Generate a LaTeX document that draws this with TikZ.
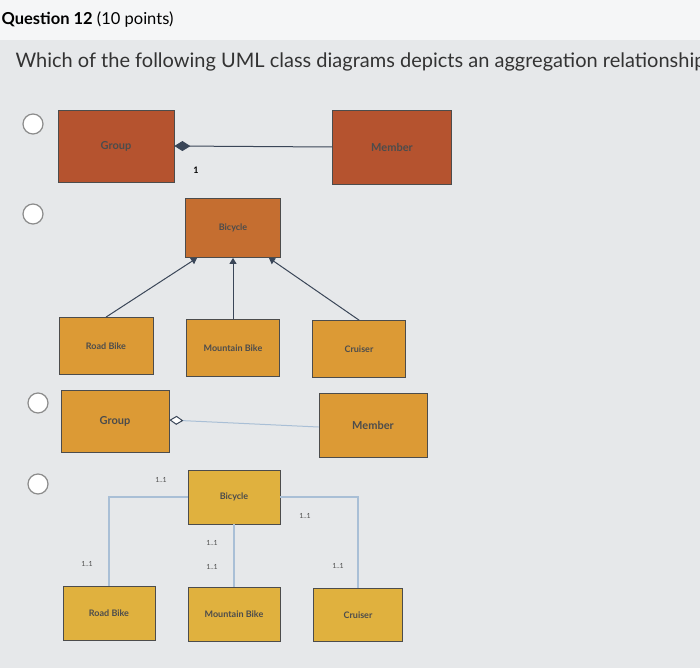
\documentclass[tikz,border=0pt]{standalone}
\usepackage{fontspec}
\setmainfont{Lato}
\usetikzlibrary{arrows.meta}
\definecolor{bg}{HTML}{E6E8EA}
\definecolor{red1}{HTML}{B5532F}
\definecolor{or2}{HTML}{C56E30}
\definecolor{or3}{HTML}{DC9A35}
\definecolor{ye4}{HTML}{E0B13E}
\definecolor{ln}{HTML}{3A4658}
\definecolor{lb}{HTML}{A9BFD6}
\tikzset{
 box/.style={draw=black!70,line width=0.8pt,inner sep=0pt,font=\fontsize{9}{10}\selectfont\bfseries\color{black!70}},
 bigbox/.style={box,font=\fontsize{11}{12}\selectfont\bfseries\color{black!70}},
 radio/.style={draw=black!45,fill=white,line width=1.2pt,circle,minimum size=20pt,inner sep=0pt},
 mult/.style={font=\fontsize{7}{8}\selectfont\color{black!70},inner sep=1pt},
 gen/.style={ln,line width=1pt,-{Triangle[width=7pt,length=6pt]}}
}
\begin{document}
\begin{tikzpicture}[x=1pt,y=-1pt]
\useasboundingbox (0,0) rectangle (700,668);
\fill[bg] (0,0) rectangle (700,668);
\fill[white!60!bg] (0,0) rectangle (700,40);
\node[anchor=west,font=\fontsize{16.5}{18}\selectfont] (t1) at (-2,20) {\textbf{Question 12} (10 points)};
\node[anchor=west,font=\fontsize{20}{22}\selectfont,color=black!80] (t2) at (12,62) {Which of the following UML class diagrams depicts an aggregation relationship?};
% radios
\node[radio] (r1) at (33,124) {};
\node[radio] (r2) at (33,214) {};
\node[radio] (r3) at (38,403) {};
\node[radio] (r4) at (38,484) {};
% diagram 1
\node[bigbox,fill=red1,minimum width=116pt,minimum height=72pt] (g1) at (116,146) {Group};
\node[bigbox,fill=red1,minimum width=119pt,minimum height=74pt] (m1) at (392,147) {Member};
\draw[ln,line width=1pt,{Diamond[length=16pt,width=10pt,fill=ln]}-] (g1.east) -- (m1.west);
\node[mult,font=\fontsize{9}{10}\selectfont\bfseries] (one) at (196,170) {1};
% diagram 2
\node[box,fill=or2,minimum width=95pt,minimum height=59pt] (b2) at (233,228) {Bicycle};
\node[box,fill=or3,minimum width=94pt,minimum height=57pt] (rb2) at (106,346) {Road Bike};
\node[box,fill=or3,minimum width=93pt,minimum height=57pt] (mb2) at (233,348) {Mountain Bike};
\node[box,fill=or3,minimum width=93pt,minimum height=57pt] (cr2) at (359,349) {Cruiser};
\draw[gen] (rb2.north) -- ([xshift=12pt]b2.south west);
\draw[gen] (mb2.north) -- (b2.south);
\draw[gen] (cr2.north) -- ([xshift=-12pt]b2.south east);
% diagram 3
\node[bigbox,fill=or3,minimum width=108pt,minimum height=62pt] (g3) at (115,421) {Group};
\node[bigbox,fill=or3,minimum width=108pt,minimum height=64pt] (m3) at (373,425) {Member};
\draw[lb,line width=1pt,{Diamond[length=14pt,width=9pt,open,fill=white,color=ln]}-] ([yshift=1pt]g3.east) -- ([yshift=-2pt]m3.west);
% diagram 4
\node[box,fill=ye4,minimum width=92pt,minimum height=54pt] (b4) at (234,497) {Bicycle};
\node[box,fill=ye4,minimum width=92pt,minimum height=54pt] (rb4) at (109,613) {Road Bike};
\node[box,fill=ye4,minimum width=92pt,minimum height=54pt] (mb4) at (234,614) {Mountain Bike};
\node[box,fill=ye4,minimum width=89pt,minimum height=53pt] (cr4) at (358,615) {Cruiser};
\draw[lb,line width=1.2pt] (b4.west) -| (rb4.north);
\draw[lb,line width=1.2pt] (b4.east) -| (cr4.north);
\draw[lb,line width=1.2pt] (b4.south) -- (mb4.north);
\node[mult] (l1) at (161,480) {1..1};
\node[mult] (l2) at (305,516) {1..1};
\node[mult] (l3) at (212,543) {1..1};
\node[mult] (l4) at (212,567) {1..1};
\node[mult] (l5) at (87,564) {1..1};
\node[mult] (l6) at (338,566) {1..1};
\end{tikzpicture}
\end{document}
